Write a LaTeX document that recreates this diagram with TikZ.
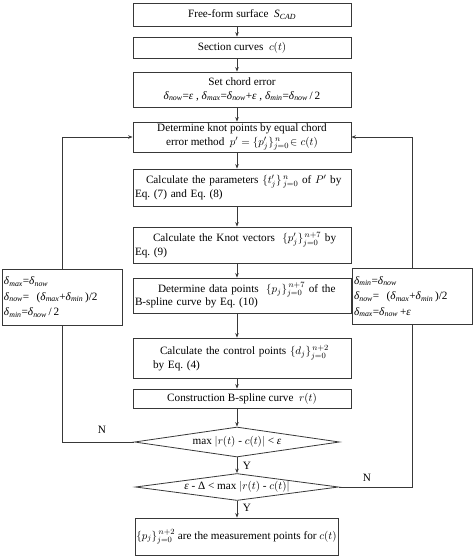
\documentclass[tikz,border=0pt]{standalone}
\usepackage{fontspec}
\setmainfont{Liberation Serif}
\usetikzlibrary{arrows.meta,shapes.geometric}
\newcommand{\dd}[1]{\textit{δ}\textsubscript{\textit{#1}}}
\newcommand{\eps}{\textit{ε}}
\colorlet{ln}{black!78}
\frenchspacing
\begin{document}
\begin{tikzpicture}[x=1pt,y=-1pt,font=\fontsize{11.2}{13.5}\selectfont,
  box/.style={draw=ln,fill=white,line width=0.8pt,inner sep=1pt,minimum width=218pt},
  lbox/.style={box,text width=214pt,align=left},
  sbox/.style={draw=ln,fill=white,line width=0.8pt,inner sep=2pt,minimum width=120pt,minimum height=56pt,text width=116pt,align=left,font=\fontsize{11.2}{15.5}\selectfont},
  dia/.style={diamond,draw=ln,fill=white,line width=0.8pt,inner sep=0pt,aspect=7},
  arr/.style={draw=ln,line width=0.8pt,-{Stealth[length=4.5pt,width=3.5pt]}},
  ln/.style={draw=ln,line width=0.8pt}]
\useasboundingbox (0,0) rectangle (474,557);
\coordinate (axis) at (237,0);
% main column
\node[box,minimum height=23pt] (b1) at (242,14.5) {Free-form surface \ \textit{S}\textsubscript{\textit{CAD}}};
\node[box,minimum height=21pt] (b2) at (242,47.5) {Section curves \ $c(t)$};
\node[box,minimum height=35pt,align=center] (b3) at (242,89.5) {Set chord error\\\dd{now}=\eps\ , \dd{max}=\dd{now}+\eps\ , \dd{min}=\dd{now}\,/\,2};
\node[box,minimum height=30pt,align=center] (b4) at (242,137) {Determine knot points by equal chord\\error method \ $p'=\{p'_j\}^{\,n}_{j=0}\!\in c(t)$};
\node[lbox,minimum height=37pt] (b5) at (242,187.5) {\hspace*{11pt}Calculate the parameters $\{t'_j\}^{\,n}_{\,j=0}$ of $P'$ by\\Eq. (7) and Eq. (8)};
\node[lbox,minimum height=36pt] (b6) at (242,245) {\hspace*{18pt}Calculate the Knot vectors \ $\{p'_j\}^{\,n+7}_{j=0}$ by\\Eq. (9)};
\node[lbox,minimum height=35pt] (b7) at (242,295.5) {\hspace*{23pt}Determine data points \ $\{p_j\}^{\,n+7}_{j=0}$ of the\\B-spline curve by Eq. (10)};
\node[lbox,minimum height=40pt] (b8) at (242,358) {\hspace*{25pt}Calculate the control points $\{d_j\}^{\,n+2}_{j=0}$\\\hspace*{18pt}by Eq. (4)};
\node[box,minimum height=19pt] (b9) at (242,398.5) {Construction B-spline curve \ $r(t)$};
\node[dia,minimum width=205pt,minimum height=30pt] (d1) at (237,442) {max $|r(t)$ - $c(t)|$ < \eps};
\node[dia,minimum width=203pt,minimum height=27pt] (d2) at (237,487) {\eps\ - Δ < max $|r(t)$ - $c(t)|$};
\node[box,minimum width=203pt,minimum height=37pt] (b10) at (236.5,536.5) {$\{p_j\}^{\,n+2}_{j=0}$ are the measurement points for $c(t)$};
% side boxes
\coordinate (lx) at (62,0);
\coordinate (rx) at (412,0);
\draw[ln] (d1.west) -- (d1.west -| lx) -- (b4.west -| lx);
\draw[arr] (b4.west -| lx) -- (b4.west);
\draw[ln] (d2.east) -- (d2.east -| rx) -- (b4.east -| rx);
\draw[arr] (b4.east -| rx) -- (b4.east);
\node[sbox] (lb) at (62,297) {\dd{max}=\dd{now}\\\dd{now}= \ (\dd{max}+\dd{min}\,)/2\\\dd{min}=\dd{now}\,/\,2};
\node[sbox] (rb) at (412,296.5) {\dd{min}=\dd{now}\\\dd{now}= \ (\dd{max}+\dd{min}\,)/2\\\dd{max}=\dd{now}\,+\eps};
% spine arrows
\draw[arr] (b1.south -| axis) -- (b2.north -| axis);
\draw[arr] (b2.south -| axis) -- (b3.north -| axis);
\draw[arr] (b3.south -| axis) -- (b4.north -| axis);
\draw[arr] (b4.south -| axis) -- (b5.north -| axis);
\draw[arr] (b5.south -| axis) -- (b6.north -| axis);
\draw[arr] (b6.south -| axis) -- (b7.north -| axis);
\draw[arr] (b7.south -| axis) -- (b8.north -| axis);
\draw[arr] (b8.south -| axis) -- (b9.north -| axis);
\draw[arr] (b9.south -| axis) -- (d1.north);
\draw[arr] (d1.south) -- (d2.north);
\draw[arr] (d2.south) -- (b10.north -| d2.south);
% labels
\node (n1) at (102,430) {N};
\node (n2) at (367,478) {N};
\node (y1) at (247,466) {Y};
\node (y2) at (247,508) {Y};
\end{tikzpicture}
\end{document}
